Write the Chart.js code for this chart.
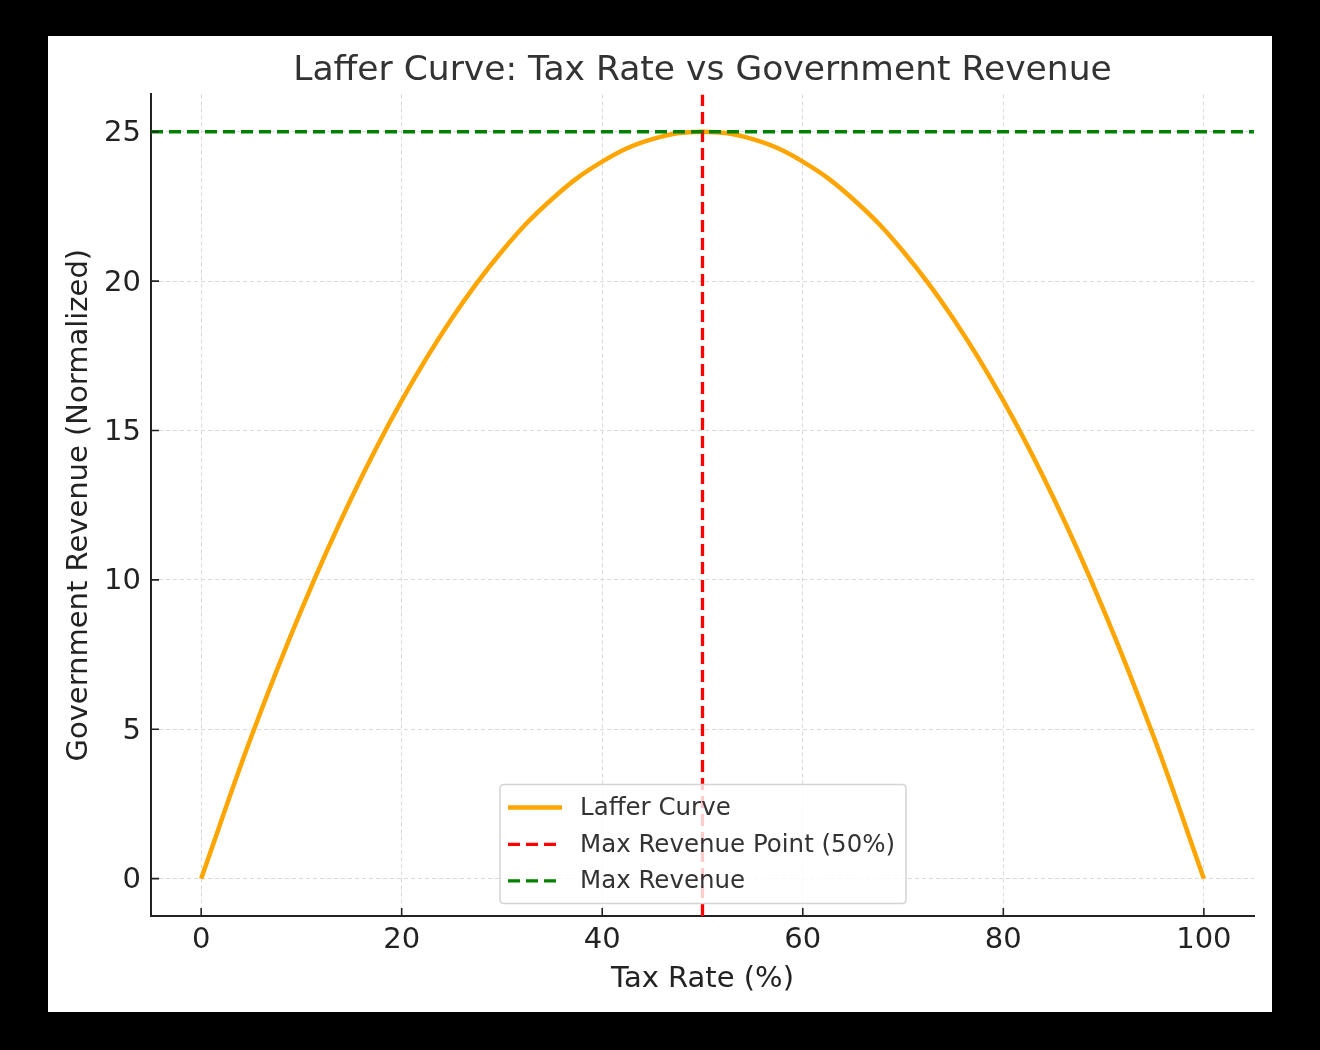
<!DOCTYPE html>
<html>
<head>
<meta charset="utf-8">
<script src="https://cdn.jsdelivr.net/npm/chart.js@4"></script>
<style>
  html, body { margin: 0; padding: 0; background: #000; }
  #panel { position: absolute; left: 48px; top: 36px; width: 1224px; height: 976px; background: #fff; }
</style>
</head>
<body>
<div id="panel"><canvas id="lafferChart"></canvas></div>
<script>
// values
const taxRates = [0, 5, 10, 15, 20, 25, 30, 35, 40, 45, 50, 55, 60, 65, 70, 75, 80, 85, 90, 95, 100];
const revenue = [0, 4.75, 9, 12.75, 16, 18.75, 21, 22.75, 24, 24.75, 25, 24.75, 24, 22.75, 21, 18.75, 16, 12.75, 9, 4.75, 0];
const peakRate = 50;
const maxRevenue = 25;
const xTicks = [0, 20, 40, 60, 80, 100];
const yTicks = [0, 5, 10, 15, 20, 25];
const xLimits = [-5, 105];
const yLimits = [-1.25, 26.25];

const FONT = "'DejaVu Sans', sans-serif";

// matplotlib-style ticks pointing into the plot
const innerTicks = {
  id: "innerTicks",
  afterDraw(chart) {
    const { ctx, chartArea, scales } = chart;
    ctx.save();
    ctx.strokeStyle = "#222";
    ctx.lineWidth = 1.6;
    ctx.beginPath();
    xTicks.forEach(v => {
      const px = scales.x.getPixelForValue(v);
      ctx.moveTo(px, chartArea.bottom);
      ctx.lineTo(px, chartArea.bottom - 8);
    });
    yTicks.forEach(v => {
      const py = scales.y.getPixelForValue(v);
      ctx.moveTo(chartArea.left, py);
      ctx.lineTo(chartArea.left + 8, py);
    });
    ctx.stroke();
    ctx.restore();
  }
};

// legend box floating inside the plot, lower centre
const legendBox = {
  id: "legendBox",
  afterDatasetsDraw(chart) {
    const { ctx, chartArea } = chart;
    const x = chartArea.left + 349, y = chartArea.top + 690, w = 406, h = 119, r = 4;
    ctx.save();
    ctx.beginPath();
    ctx.moveTo(x + r, y);
    ctx.lineTo(x + w - r, y);
    ctx.quadraticCurveTo(x + w, y, x + w, y + r);
    ctx.lineTo(x + w, y + h - r);
    ctx.quadraticCurveTo(x + w, y + h, x + w - r, y + h);
    ctx.lineTo(x + r, y + h);
    ctx.quadraticCurveTo(x, y + h, x, y + h - r);
    ctx.lineTo(x, y + r);
    ctx.quadraticCurveTo(x, y, x + r, y);
    ctx.closePath();
    ctx.fillStyle = "rgba(255,255,255,0.8)";
    ctx.fill();
    ctx.strokeStyle = "#d4d4d4";
    ctx.lineWidth = 1.5;
    ctx.stroke();

    const rows = [23, 60, 96.5];
    chart.data.datasets.forEach((ds, i) => {
      const cy = y + rows[i];
      ctx.beginPath();
      ctx.setLineDash(ds.borderDash || []);
      ctx.strokeStyle = ds.borderColor;
      ctx.lineWidth = ds.borderWidth;
      ctx.moveTo(x + 8, cy);
      ctx.lineTo(x + 62, cy);
      ctx.stroke();
      ctx.setLineDash([]);
      ctx.fillStyle = "#333";
      ctx.font = "24.5px " + FONT;
      ctx.textBaseline = "middle";
      ctx.textAlign = "left";
      ctx.fillText(ds.label, x + 80, cy + 1);
    });
    ctx.restore();
  }
};

function drawLafferChart() {
  const ctx = document.getElementById("lafferChart");

  new Chart(ctx, {
    type: "line",
    data: {
      datasets: [
        {
          label: "Laffer Curve",
          data: taxRates.map((t, i) => ({ x: t, y: revenue[i] })),
          borderColor: "#FFA500",
          borderWidth: 4.5,
          tension: 0.4,
          pointRadius: 0,
          order: 3
        },
        {
          label: "Max Revenue Point (50%)",
          data: yLimits.map(v => ({ x: peakRate, y: v })),
          borderColor: "#FF0000",
          borderWidth: 3.3,
          borderDash: [12, 6],
          pointRadius: 0,
          order: 2
        },
        {
          label: "Max Revenue",
          data: xLimits.map(v => ({ x: v, y: maxRevenue })),
          borderColor: "#008000",
          borderWidth: 3.3,
          borderDash: [12, 6],
          pointRadius: 0,
          order: 1
        }
      ]
    },
    options: {
      responsive: true,
      maintainAspectRatio: false,
      animation: false,
      layout: { padding: { left: 0, right: 18, top: 0, bottom: 0 } },
      plugins: {
        legend: { display: false },
        tooltip: { enabled: false },
        title: {
          display: true,
          text: "Laffer Curve: Tax Rate vs Government Revenue",
          fullSize: false,
          color: "#333",
          font: { family: FONT, size: 34.5, weight: "normal" },
          padding: { top: 14, bottom: 3 }
        }
      },
      scales: {
        x: {
          type: "linear",
          min: xLimits[0],
          max: xLimits[1],
          afterBuildTicks: s => { s.ticks = xTicks.map(v => ({ value: v })); },
          afterFit: s => { s.height = 96; },
          ticks: { color: "#222", padding: 7, font: { family: FONT, size: 29 } },
          grid: { color: "#dadada", lineWidth: 1, drawTicks: false },
          border: { color: "#222", width: 2, dash: [4, 3] },
          title: {
            display: true,
            text: "Tax Rate (%)",
            color: "#222",
            font: { family: FONT, size: 29 },
            padding: { top: 15, bottom: 15 }
          }
        },
        y: {
          min: yLimits[0],
          max: yLimits[1],
          afterBuildTicks: s => { s.ticks = yTicks.map(v => ({ value: v })); },
          afterFit: s => { s.width = 103; },
          ticks: { color: "#222", padding: 10, labelOffset: 2, font: { family: FONT, size: 29 } },
          grid: { color: "#dadada", lineWidth: 1, drawTicks: false },
          border: { color: "#222", width: 2, dash: [4, 3] },
          title: {
            display: true,
            text: "Government Revenue (Normalized)",
            color: "#222",
            font: { family: FONT, size: 29 },
            padding: { top: 14, bottom: 14 }
          }
        }
      }
    },
    plugins: [innerTicks, legendBox]
  });
}

drawLafferChart();
</script>
</body>
</html>
